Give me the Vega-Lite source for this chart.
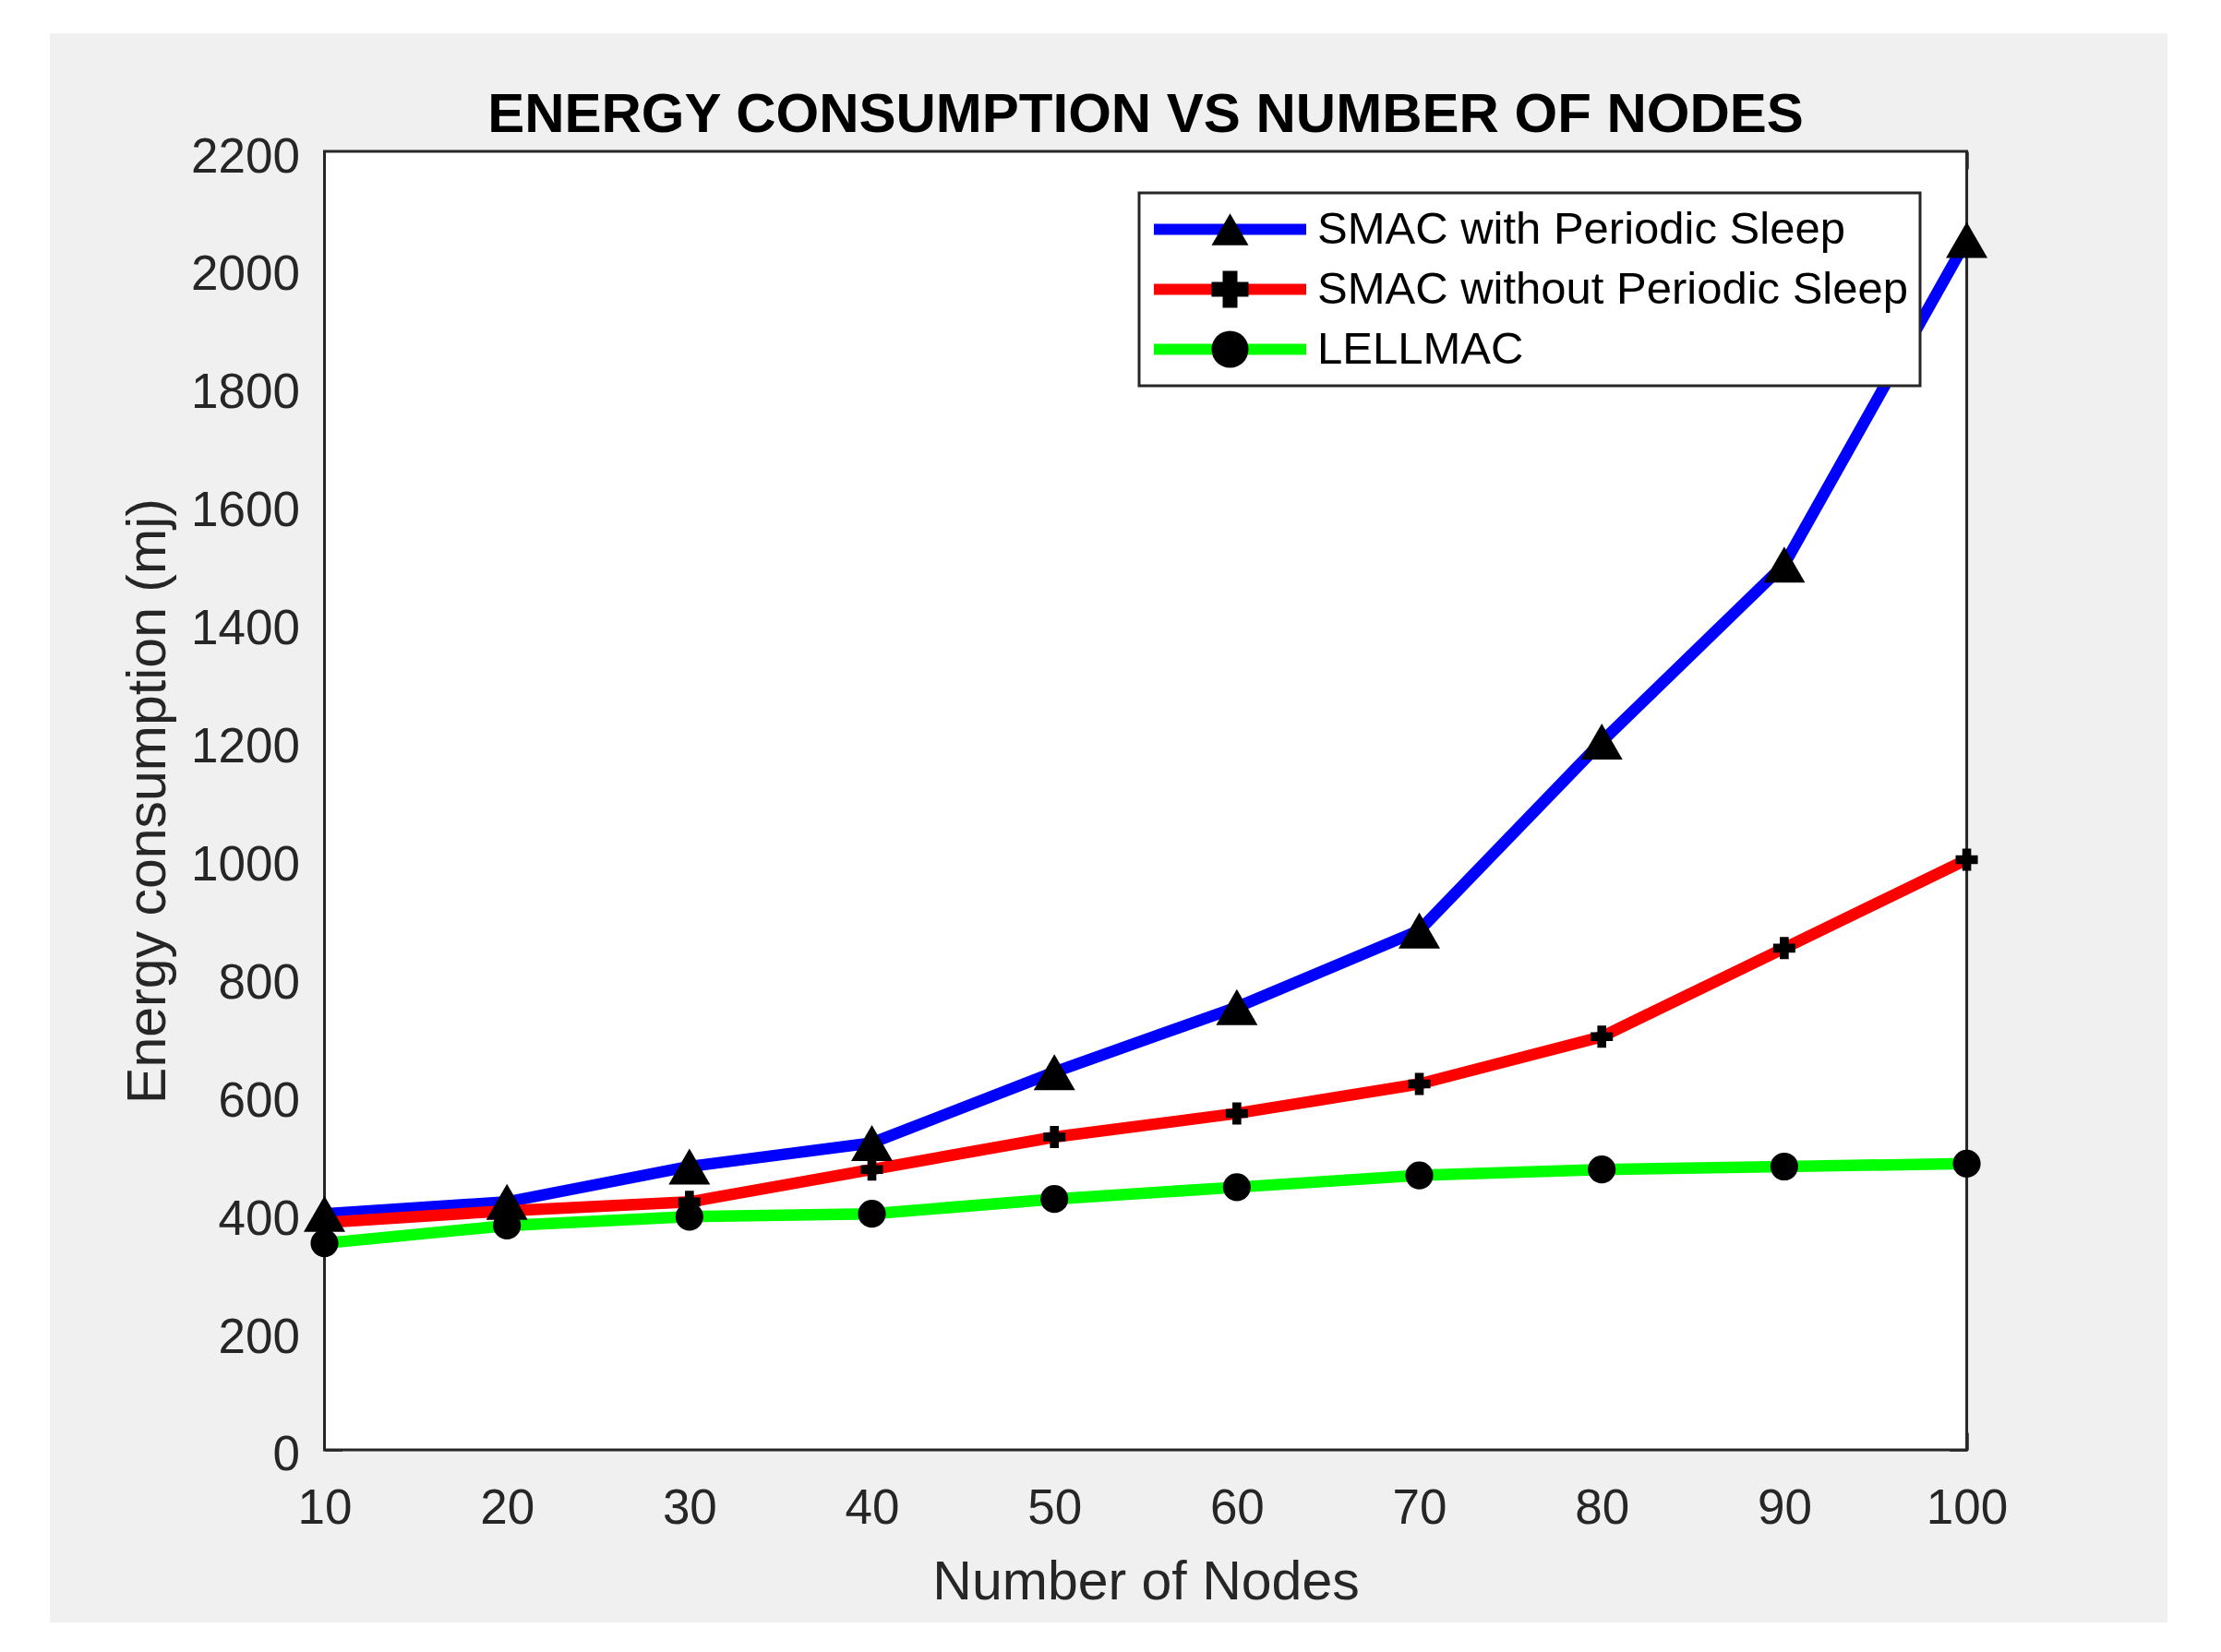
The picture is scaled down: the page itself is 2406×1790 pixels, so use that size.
{
  "$schema": "https://vega.github.io/schema/vega-lite/v6.json",
  "width": 2294,
  "height": 1722,
  "autosize": {"type": "none"},
  "padding": {"left": 54, "top": 36, "right": 58, "bottom": 32},
  "background": "white",
  "title": {
    "text": "ENERGY CONSUMPTION VS NUMBER OF NODES",
    "font": "Liberation Sans",
    "fontSize": 60,
    "fontWeight": "bold",
    "color": "black",
    "anchor": "middle",
    "frame": "group",
    "offset": 0,
    "baseline": "alphabetic",
    "dx": 40,
    "dy": 167
  },
  "config": {
    "view": {"fill": "#f0f0f0", "stroke": null},
    "font": "Liberation Sans"
  },
  "data": {
    "values": [
      {"nodes": 10, "energy": 400, "series": "SMAC with Periodic Sleep"},
      {"nodes": 20, "energy": 420, "series": "SMAC with Periodic Sleep"},
      {"nodes": 30, "energy": 480, "series": "SMAC with Periodic Sleep"},
      {"nodes": 40, "energy": 520, "series": "SMAC with Periodic Sleep"},
      {"nodes": 50, "energy": 640, "series": "SMAC with Periodic Sleep"},
      {"nodes": 60, "energy": 750, "series": "SMAC with Periodic Sleep"},
      {"nodes": 70, "energy": 880, "series": "SMAC with Periodic Sleep"},
      {"nodes": 80, "energy": 1200, "series": "SMAC with Periodic Sleep"},
      {"nodes": 90, "energy": 1500, "series": "SMAC with Periodic Sleep"},
      {"nodes": 100, "energy": 2050, "series": "SMAC with Periodic Sleep"},
      {"nodes": 10, "energy": 385, "series": "SMAC without Periodic Sleep"},
      {"nodes": 20, "energy": 405, "series": "SMAC without Periodic Sleep"},
      {"nodes": 30, "energy": 420, "series": "SMAC without Periodic Sleep"},
      {"nodes": 40, "energy": 475, "series": "SMAC without Periodic Sleep"},
      {"nodes": 50, "energy": 530, "series": "SMAC without Periodic Sleep"},
      {"nodes": 60, "energy": 570, "series": "SMAC without Periodic Sleep"},
      {"nodes": 70, "energy": 620, "series": "SMAC without Periodic Sleep"},
      {"nodes": 80, "energy": 700, "series": "SMAC without Periodic Sleep"},
      {"nodes": 90, "energy": 850, "series": "SMAC without Periodic Sleep"},
      {"nodes": 100, "energy": 1000, "series": "SMAC without Periodic Sleep"},
      {"nodes": 10, "energy": 350, "series": "LELLMAC"},
      {"nodes": 20, "energy": 380, "series": "LELLMAC"},
      {"nodes": 30, "energy": 395, "series": "LELLMAC"},
      {"nodes": 40, "energy": 400, "series": "LELLMAC"},
      {"nodes": 50, "energy": 425, "series": "LELLMAC"},
      {"nodes": 60, "energy": 445, "series": "LELLMAC"},
      {"nodes": 70, "energy": 465, "series": "LELLMAC"},
      {"nodes": 80, "energy": 475, "series": "LELLMAC"},
      {"nodes": 90, "energy": 480, "series": "LELLMAC"},
      {"nodes": 100, "energy": 485, "series": "LELLMAC"}
    ]
  },
  "resolve": {"axis": {"x": "independent", "y": "independent"}},
  "layer": [
    {
      "data": {"values": [{}]},
      "mark": {"type": "rect", "fill": "white", "stroke": "#262626", "strokeWidth": 3},
      "encoding": {
        "x": {
          "datum": 10,
          "type": "quantitative",
          "scale": {"domain": [-5.05, 111.0], "nice": false, "zero": false},
          "axis": {
            "orient": "bottom",
            "offset": -187,
            "values": [10, 20, 30, 40, 50, 60, 70, 80, 90, 100],
            "format": "d",
            "domain": false,
            "grid": false,
            "ticks": true,
            "tickSize": -19,
            "tickWidth": 2.5,
            "tickColor": "#262626",
            "labelFont": "Liberation Sans",
            "labelFontSize": 53,
            "labelColor": "#262626",
            "labelPadding": 98,
            "labelBaseline": "alphabetic",
            "labelAlign": "center",
            "labelFlush": false,
            "labelOverlap": false,
            "title": "Number of Nodes",
            "titleFont": "Liberation Sans",
            "titleFontSize": 59,
            "titleFontWeight": "normal",
            "titleColor": "#262626",
            "titleX": 1187,
            "titleY": 161,
            "titleAlign": "center",
            "titleBaseline": "alphabetic"
          }
        },
        "x2": {"datum": 100},
        "y": {
          "datum": 0,
          "type": "quantitative",
          "scale": {"domain": [-292.5, 2400.2], "nice": false, "zero": false},
          "axis": {
            "orient": "left",
            "offset": -297.5,
            "values": [0, 200, 400, 600, 800, 1000, 1200, 1400, 1600, 1800, 2000, 2200],
            "format": "d",
            "domain": false,
            "grid": false,
            "ticks": true,
            "tickSize": -19,
            "tickWidth": 2.5,
            "tickColor": "#262626",
            "labelFont": "Liberation Sans",
            "labelFontSize": 53,
            "labelColor": "#262626",
            "labelPadding": 46,
            "labelBaseline": "alphabetic",
            "labelOffset": 22,
            "labelAlign": "right",
            "labelFlush": false,
            "labelOverlap": false,
            "title": "Energy consumption (mj)",
            "titleFont": "Liberation Sans",
            "titleFontSize": 59,
            "titleFontWeight": "normal",
            "titleColor": "#262626",
            "titleAngle": 270,
            "titleX": -173.5,
            "titleY": 831.5,
            "titleAlign": "center",
            "titleBaseline": "alphabetic"
          }
        },
        "y2": {"datum": 2200}
      }
    },
    {
      "mark": {"type": "line", "strokeWidth": 12.5},
      "encoding": {
        "x": {
          "field": "nodes",
          "type": "quantitative",
          "scale": {"domain": [-5.05, 111.0], "nice": false, "zero": false},
          "axis": {
            "orient": "top",
            "offset": -128,
            "values": [10, 20, 30, 40, 50, 60, 70, 80, 90, 100],
            "labels": false,
            "domain": false,
            "grid": false,
            "ticks": true,
            "tickSize": -19,
            "tickWidth": 2.5,
            "tickColor": "#262626",
            "title": null
          }
        },
        "y": {
          "field": "energy",
          "type": "quantitative",
          "scale": {"domain": [-292.5, 2400.2], "nice": false, "zero": false},
          "axis": {
            "orient": "right",
            "offset": -217.5,
            "values": [0, 200, 400, 600, 800, 1000, 1200, 1400, 1600, 1800, 2000, 2200],
            "labels": false,
            "domain": false,
            "grid": false,
            "ticks": true,
            "tickSize": -19,
            "tickWidth": 2.5,
            "tickColor": "#262626",
            "title": null
          }
        },
        "stroke": {
          "field": "series",
          "type": "nominal",
          "sort": ["SMAC with Periodic Sleep", "SMAC without Periodic Sleep", "LELLMAC"],
          "scale": {"range": ["#0000ff", "#ff0000", "#00ff00"]},
          "legend": {
            "orient": "none",
            "legendX": 1180,
            "legendY": 173,
            "title": null,
            "symbolType": "stroke",
            "symbolSize": 27225,
            "symbolStrokeWidth": 12,
            "symbolOffset": -2,
            "clipHeight": 55,
            "labelFont": "Liberation Sans",
            "labelFontSize": 49,
            "labelColor": "black",
            "labelOffset": 6,
            "labelLimit": 2000,
            "padding": 12,
            "rowPadding": 10,
            "fillColor": "white",
            "strokeColor": "#262626",
            "zindex": 0,
            "encode": {
              "legend": {"update": {"strokeWidth": {"value": 3}}}
            }
          }
        }
      }
    },
    {
      "transform": [{"filter": {"field": "series", "equal": "SMAC with Periodic Sleep"}}],
      "mark": {"type": "point", "filled": true, "size": 2025, "opacity": 1, "strokeWidth": 0},
      "encoding": {
        "x": {"field": "nodes", "type": "quantitative", "axis": null},
        "y": {"field": "energy", "type": "quantitative", "axis": null},
        "color": {"value": "black"},
        "shape": {
          "field": "series",
          "type": "nominal",
          "scale": {
            "domain": ["SMAC with Periodic Sleep", "SMAC without Periodic Sleep", "LELLMAC"],
            "range": ["triangle-up", "cross", "circle"]
          },
          "legend": {
            "orient": "none",
            "legendX": 1180,
            "legendY": 173,
            "title": null,
            "symbolOffset": 62,
            "symbolFillColor": "black",
            "symbolStrokeColor": "black",
            "symbolStrokeWidth": 0,
            "symbolOpacity": 1,
            "symbolSize": 1600,
            "clipHeight": 55,
            "labelFont": "Liberation Sans",
            "labelFontSize": 49,
            "labelExpr": "''",
            "labelOffset": 6,
            "labelLimit": 2000,
            "padding": 12,
            "rowPadding": 10,
            "zindex": 1,
            "encode": {
              "symbols": {
                "update": {
                  "size": {"signal": "datum.value === 'SMAC with Periodic Sleep' ? 1825 : (datum.value === 'LELLMAC' ? 855 : 729)"}
                }
              }
            }
          }
        }
      }
    },
    {
      "transform": [{"filter": {"field": "series", "equal": "SMAC without Periodic Sleep"}}],
      "mark": {"type": "point", "filled": true, "size": 576, "opacity": 1, "strokeWidth": 0},
      "encoding": {
        "x": {"field": "nodes", "type": "quantitative", "axis": null},
        "y": {"field": "energy", "type": "quantitative", "axis": null},
        "color": {"value": "black"},
        "shape": {"field": "series", "type": "nominal"}
      }
    },
    {
      "transform": [{"filter": {"field": "series", "equal": "LELLMAC"}}],
      "mark": {"type": "point", "filled": true, "size": 908, "opacity": 1, "strokeWidth": 0},
      "encoding": {
        "x": {"field": "nodes", "type": "quantitative", "axis": null},
        "y": {"field": "energy", "type": "quantitative", "axis": null},
        "color": {"value": "black"},
        "shape": {"field": "series", "type": "nominal"}
      }
    }
  ]
}
